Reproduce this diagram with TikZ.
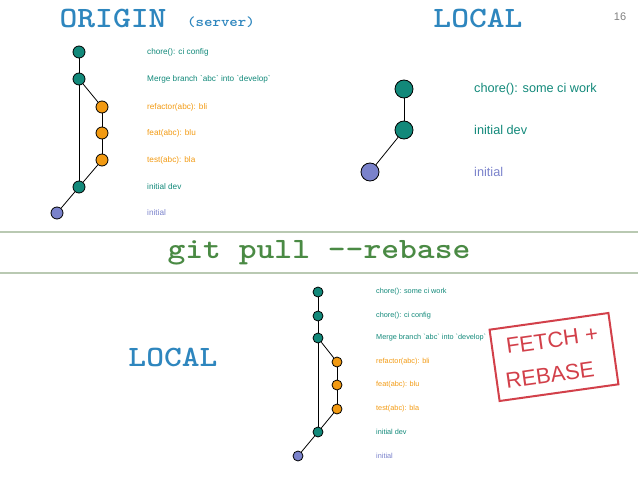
\documentclass[tikz,border=0pt]{standalone}
\usepackage{fontspec}
\usepackage{graphicx}
\setmainfont{Liberation Sans}
\usetikzlibrary{positioning}
\definecolor{cteal}{HTML}{12897A}
\definecolor{corange}{HTML}{F29A12}
\definecolor{cblue}{HTML}{7A82CB}
\definecolor{ctitle}{HTML}{2E86BE}
\definecolor{cgreen}{HTML}{4A8A44}
\definecolor{cline}{HTML}{B9C9B2}
\definecolor{cstamp}{HTML}{D2404A}
\newcommand{\bq}{\textasciigrave}
\newcommand{\wide}[1]{\scalebox{1.15}[1]{#1}}
\tikzset{
    mynode/.style = {circle, thick, draw=black, fill=cteal, inner sep=0pt},
    mynodeo/.style = {circle, thick, draw=black, fill=corange, inner sep=0pt},
    mynodeb/.style = {circle, thick, draw=black, fill=cblue, inner sep=0pt},
    edgen/.style = {-, thick, black},
    lbl/.style = {anchor=west, inner sep=0pt, font=\fontsize{8.2}{9}\selectfont},
    lblbig/.style = {anchor=west, inner sep=0pt, font=\fontsize{12.7}{14}\selectfont},
    lblsmall/.style = {anchor=west, inner sep=0pt, font=\fontsize{7.3}{8}\selectfont},
    title/.style = {inner sep=0pt, text=ctitle, font=\ttfamily\bfseries\fontsize{29.5}{30}\selectfont},
    stamptext/.style = {inner sep=0pt, text=cstamp, rotate=8, font=\fontsize{22}{24}\selectfont},
    sepline/.style = {cline, line width=1.5pt}
}

\begin{document}
\begin{tikzpicture}[x=1pt,y=-1pt]
\path[use as bounding box] (0,0) rectangle (638,479);
%
% titles
\node[title] (torigin) at (113,18) {\wide{ORIGIN}};
\node[title, font=\ttfamily\bfseries\fontsize{14}{15}\selectfont] (tserver) at (221,22) {\wide{(server)}};
\node[title] (tlocal) at (478,18) {\wide{LOCAL}};
\node[inner sep=0pt, text=gray, font=\fontsize{11}{12}\selectfont] (page) at (620,17) {16};
%
% origin (server)
\node[mynode, minimum size=12pt] at (79,52) (oa) {};
\node[mynode, minimum size=12pt] at (79,79) (ob) {};
\node[mynodeo, minimum size=12pt] at (102,107) (oc) {};
\node[mynodeo, minimum size=12pt] at (102,133) (od) {};
\node[mynodeo, minimum size=12pt] at (102,160) (oe) {};
\node[mynode, minimum size=12pt] at (79,187) (of) {};
\node[mynodeb, minimum size=12pt] at (57,213) (og) {};
%
\draw[edgen] (oa) -- (ob);
\draw[edgen] (ob) -- (of);
\draw[edgen] (ob) -- (oc);
\draw[edgen] (oc) -- (od);
\draw[edgen] (od) -- (oe);
\draw[edgen] (oe) -- (of);
\draw[edgen] (of) -- (og);
%
\node[lbl, text=cteal] at (147,52) (loa) {chore(): ci config};
\node[lbl, text=cteal] at (147,79) (lob) {Merge branch \bq abc\bq{} into \bq develop\bq};
\node[lbl, text=corange] at (147,107) (loc) {refactor(abc): bli};
\node[lbl, text=corange] at (147,133) (lod) {feat(abc): blu};
\node[lbl, text=corange] at (147,160) (loe) {test(abc): bla};
\node[lbl, text=cteal] at (147,187) (lof) {initial dev};
\node[lbl, text=cblue] at (147,213) (log) {initial};
%
% local (before)
\node[mynode, minimum size=18pt] at (404,89) (la) {};
\node[mynode, minimum size=18pt] at (404,130) (lb) {};
\node[mynodeb, minimum size=18pt] at (370,172) (lc) {};
%
\draw[edgen] (la) -- (lb);
\draw[edgen] (lb) -- (lc);
%
\node[lblbig, text=cteal] at (474,89) (lla) {chore(): some ci work};
\node[lblbig, text=cteal] at (474,130) (llb) {initial dev};
\node[lblbig, text=cblue] at (474,172) (llc) {initial};
%
% command
\coordinate (s1a) at (0,232);
\coordinate (s1b) at (638,232);
\coordinate (s2a) at (0,273);
\coordinate (s2b) at (638,273);
\draw[sepline] (s1a) -- (s1b);
\draw[sepline] (s2a) -- (s2b);
\node[title, text=cgreen] (cmd) at (319,253) {\wide{git pull -{}-rebase}};
%
% local (after)
\node[title] (tlocal2) at (173,357) {\wide{LOCAL}};
%
\node[mynode, minimum size=10pt] at (318,292) (ra) {};
\node[mynode, minimum size=10pt] at (318,316) (rb) {};
\node[mynode, minimum size=10pt] at (318,338) (rc) {};
\node[mynodeo, minimum size=10pt] at (337,362) (rd) {};
\node[mynodeo, minimum size=10pt] at (337,385) (re) {};
\node[mynodeo, minimum size=10pt] at (337,409) (rf) {};
\node[mynode, minimum size=10pt] at (318,432) (rg) {};
\node[mynodeb, minimum size=10pt] at (298,456) (rh) {};
%
\draw[edgen] (ra) -- (rb);
\draw[edgen] (rb) -- (rc);
\draw[edgen] (rc) -- (rg);
\draw[edgen] (rc) -- (rd);
\draw[edgen] (rd) -- (re);
\draw[edgen] (re) -- (rf);
\draw[edgen] (rf) -- (rg);
\draw[edgen] (rg) -- (rh);
%
\node[lblsmall, text=cteal] at (376,292) (lra) {chore(): some ci work};
\node[lblsmall, text=cteal] at (376,316) (lrb) {chore(): ci config};
\node[lblsmall, text=cteal] at (376,338) (lrc) {Merge branch \bq abc\bq{} into \bq develop\bq};
\node[lblsmall, text=corange] at (376,362) (lrd) {refactor(abc): bli};
\node[lblsmall, text=corange] at (376,385) (lre) {feat(abc): blu};
\node[lblsmall, text=corange] at (376,409) (lrf) {test(abc): bla};
\node[lblsmall, text=cteal] at (376,432) (lrg) {initial dev};
\node[lblsmall, text=cblue] at (376,456) (lrh) {initial};
%
% stamp
\node[draw=cstamp, line width=2pt, rotate=8, minimum width=120pt, minimum height=72pt] (stamp) at (554,357) {};
\node[stamptext] (fetch) at (552,340) {FETCH +};
\node[stamptext] (rebase) at (550,375) {REBASE};

\end{tikzpicture}
\end{document}
